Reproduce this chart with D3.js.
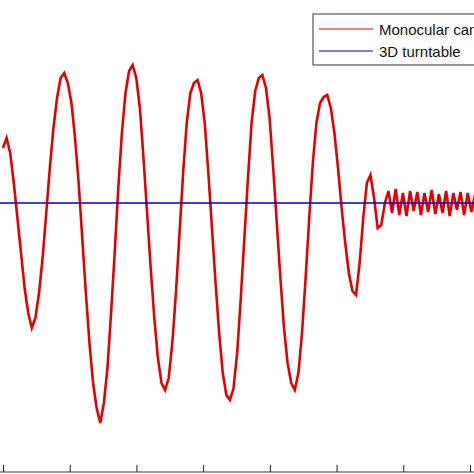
<!DOCTYPE html>
<html><head><meta charset="utf-8">
<script src="https://cdn.jsdelivr.net/npm/d3@7"></script>
<style>body{margin:0;background:#fff}</style>
</head><body><svg id="chart"></svg>
<script>
// sampled every 0.54 s
const camera = [0.55,0.65,0.5,0.2,-0.15,-0.5,-0.85,-1.1,-1.25,
  -1.15,-0.9,-0.55,-0.1,0.35,0.75,1.05,1.25,1.3,
  1.2,1.0,0.65,0.2,-0.35,-0.9,-1.4,-1.8,-2.05,-2.2,
  -2.0,-1.65,-1.1,-0.5,0.15,0.7,1.1,1.32,1.38,
  1.25,0.95,0.45,-0.1,-0.65,-1.15,-1.55,-1.8,-1.87,
  -1.75,-1.4,-0.9,-0.3,0.3,0.8,1.1,1.2,1.23,
  1.1,0.8,0.3,-0.25,-0.8,-1.3,-1.7,-1.92,-1.97,
  -1.85,-1.5,-0.95,-0.35,0.25,0.8,1.12,1.25,1.28,
  1.15,0.85,0.35,-0.2,-0.75,-1.25,-1.6,-1.8,-1.87,
  -1.7,-1.3,-0.75,-0.15,0.4,0.8,1.0,1.06,1.08,
  0.95,0.7,0.35,-0.05,-0.4,-0.7,-0.88,-0.92,
  -0.6,-0.15,0.2,0.28,0.05,-0.25,-0.22,0.0,
  0.12,-0.1,0.14,-0.12,0.1,-0.13,0.12,-0.08,0.11,-0.12,0.1,-0.09,0.13,
  -0.11,0.09,-0.1,0.12,-0.13,0.1,-0.07,0.11,-0.12,0.1,-0.09,0.08,-0.1,0.11,-0.12,0.09,-0.08];
const turntable = [0, 0];
const xTicks = [0,10,20,30,40,50,60,70];
const legendLabels = ["Monocular camera","3D turntable"];
const step = 0.54;

const w = 474, h = 474;
const svg = d3.select("#chart").attr("width", w).attr("height", h);

const x = d3.scaleLinear().domain([0,70]).range([3,470]);
const y = d3.scaleLinear().domain([-2.71,2.03]).range([474,0]);

svg.append("path").datum(camera)
  .attr("d", d3.line().x((d,i) => x(i*step)).y(d => y(d)))
  .attr("fill","none").attr("stroke","#e50000").attr("stroke-width",2.6);

svg.append("path").datum(turntable)
  .attr("d", d3.line().x((d,i) => i ? w : 0).y(d => y(d)))
  .attr("stroke","#0000b4").attr("stroke-width",1.3);

// bottom axis, ticks pointing up
const axis = svg.append("g").attr("transform","translate(0,472)")
  .call(d3.axisBottom(x).tickValues(xTicks).tickSize(-7).tickFormat(""));
axis.select(".domain").attr("stroke","#999").attr("stroke-width",2).attr("d","M0,0H474");
axis.selectAll("line").attr("stroke","#222");

const lg = svg.append("g");
lg.append("rect").attr("x",313).attr("y",14).attr("width",200).attr("height",51)
  .attr("fill","#fff").attr("stroke","#333");
const cols = ["#e50000","#0000b4"];
legendLabels.forEach((t,i) => {
  lg.append("line").attr("x1",319).attr("x2",373).attr("y1",29+i*22).attr("y2",29+i*22)
    .attr("stroke",cols[i]);
  lg.append("text").attr("x",379).attr("y",35+i*22).text(t)
    .attr("font-family","Liberation Sans, Arial").attr("font-size",15).attr("fill","#111");
});
</script></body></html>
